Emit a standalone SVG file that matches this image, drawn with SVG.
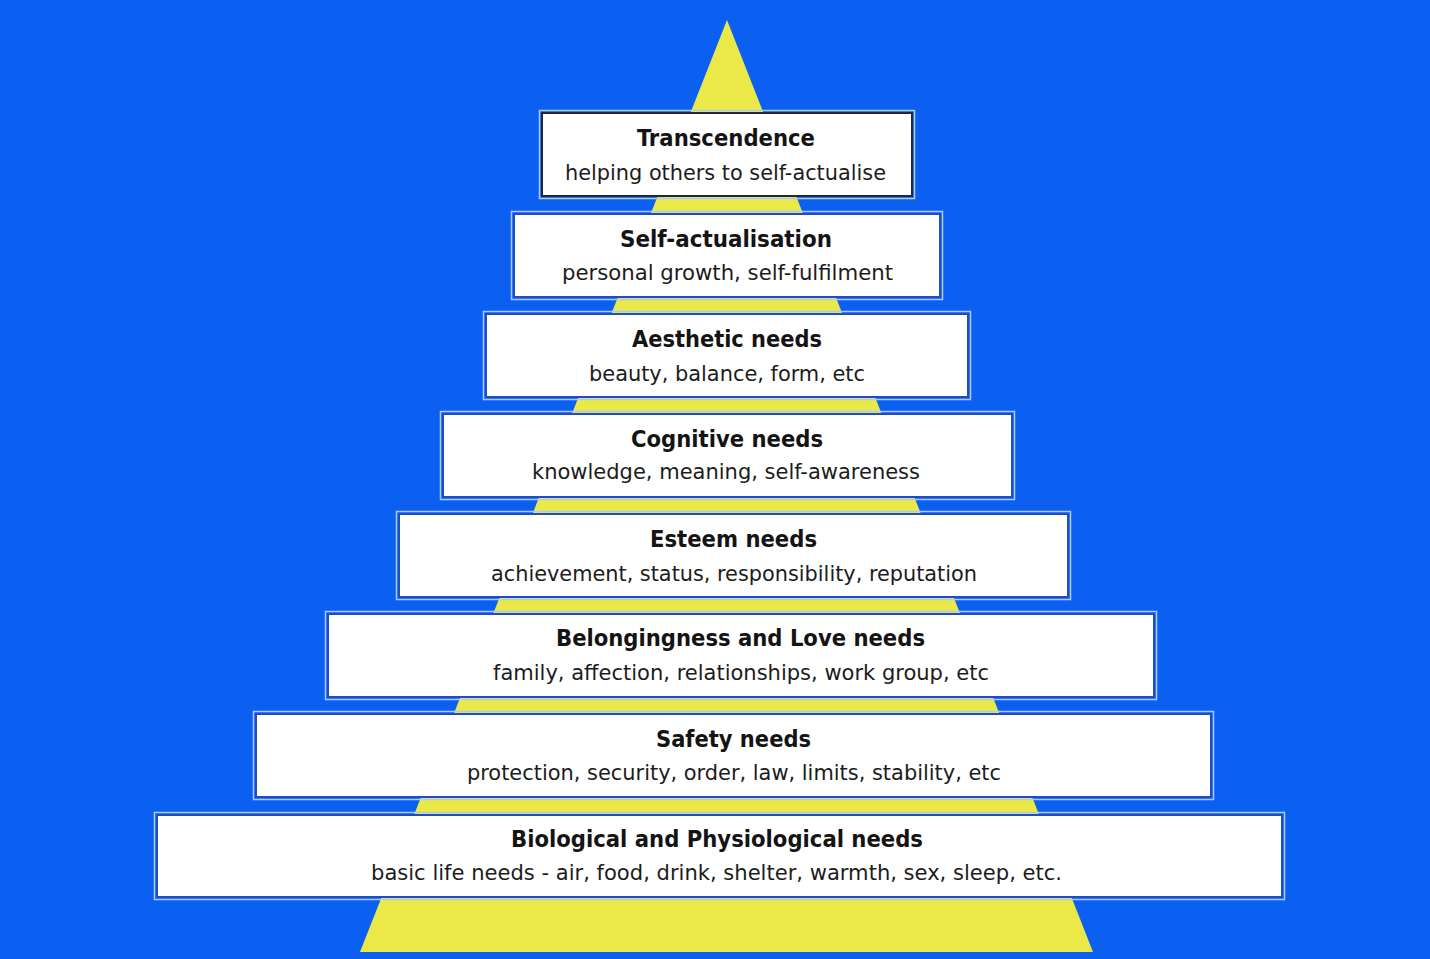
<svg xmlns="http://www.w3.org/2000/svg" width="1430" height="959" viewBox="0 0 1430 959">
<style>
.bg{fill:#0b60f2}
.tri{fill:#ebe947}
.outer{fill:none;stroke:#a9c9ff;stroke-width:1.5}
.box{fill:#ffffff;stroke:#1f4cc4;stroke-width:2}
.dark{stroke:#22263a}
.t{font-family:"DejaVu Sans Condensed","DejaVu Sans",sans-serif;font-weight:bold;font-size:23px;fill:#141414;text-anchor:middle}
.s{font-family:"DejaVu Sans Condensed","DejaVu Sans",sans-serif;font-size:22px;fill:#1c1c1c;text-anchor:middle}
</style>
<rect class="bg" x="0" y="0" width="1430" height="959"/>
<polygon class="tri" points="727,20 360,952 1093,952"/>
<g id="connectors"></g>
<g id="transcendence">
<rect class="outer" x="539.5" y="110.5" width="375" height="88"/>
<rect class="box dark" x="542" y="113" width="370" height="83"/>
<text class="t" x="726" y="146" textLength="178" lengthAdjust="spacingAndGlyphs">Transcendence</text>
<text class="s" x="725.5" y="180" textLength="321" lengthAdjust="spacingAndGlyphs">helping others to self-actualise</text>
</g>
<g id="self-actualisation">
<rect class="outer" x="511.5" y="211.5" width="431" height="88"/>
<rect class="box" x="514" y="214" width="426" height="83"/>
<text class="t" x="726" y="247" textLength="212" lengthAdjust="spacingAndGlyphs">Self-actualisation</text>
<text class="s" x="727.5" y="280" textLength="331" lengthAdjust="spacingAndGlyphs">personal growth, self-fulfilment</text>
</g>
<g id="aesthetic">
<rect class="outer" x="483.5" y="311.5" width="487" height="88"/>
<rect class="box" x="486" y="314" width="482" height="83"/>
<text class="t" x="727" y="347" textLength="190" lengthAdjust="spacingAndGlyphs">Aesthetic needs</text>
<text class="s" x="727" y="381" textLength="276" lengthAdjust="spacingAndGlyphs">beauty, balance, form, etc</text>
</g>
<g id="cognitive">
<rect class="outer" x="440.5" y="411.5" width="574" height="88"/>
<rect class="box" x="443" y="414" width="569" height="83"/>
<text class="t" x="727" y="447" textLength="192" lengthAdjust="spacingAndGlyphs">Cognitive needs</text>
<text class="s" x="726" y="479" textLength="388" lengthAdjust="spacingAndGlyphs">knowledge, meaning, self-awareness</text>
</g>
<g id="esteem">
<rect class="outer" x="396.5" y="511.5" width="674" height="88"/>
<rect class="box" x="399" y="514" width="669" height="83"/>
<text class="t" x="733.5" y="547" textLength="167" lengthAdjust="spacingAndGlyphs">Esteem needs</text>
<text class="s" x="734" y="581" textLength="486" lengthAdjust="spacingAndGlyphs">achievement, status, responsibility, reputation</text>
</g>
<g id="belongingness">
<rect class="outer" x="325.5" y="611.5" width="831" height="88"/>
<rect class="box" x="328" y="614" width="826" height="83"/>
<text class="t" x="740.5" y="646" textLength="369" lengthAdjust="spacingAndGlyphs">Belongingness and Love needs</text>
<text class="s" x="741" y="680" textLength="496" lengthAdjust="spacingAndGlyphs">family, affection, relationships, work group, etc</text>
</g>
<g id="safety">
<rect class="outer" x="253.5" y="711.5" width="960" height="88"/>
<rect class="box" x="256" y="714" width="955" height="83"/>
<text class="t" x="733.5" y="747" textLength="155" lengthAdjust="spacingAndGlyphs">Safety needs</text>
<text class="s" x="734" y="780" textLength="534" lengthAdjust="spacingAndGlyphs">protection, security, order, law, limits, stability, etc</text>
</g>
<g id="biological">
<rect class="outer" x="154.5" y="812.5" width="1130" height="87"/>
<rect class="box" x="157" y="815" width="1125" height="82"/>
<text class="t" x="717" y="847" textLength="412" lengthAdjust="spacingAndGlyphs">Biological and Physiological needs</text>
<text class="s" x="716.5" y="880" textLength="691" lengthAdjust="spacingAndGlyphs">basic life needs - air, food, drink, shelter, warmth, sex, sleep, etc.</text>
</g>
</svg>
